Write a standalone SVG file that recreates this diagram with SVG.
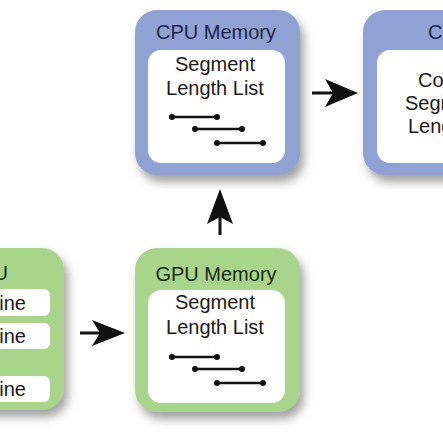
<svg xmlns="http://www.w3.org/2000/svg" width="443" height="443" viewBox="0 0 443 443">
<defs>
<filter id="sh" x="-20%" y="-20%" width="150%" height="150%">
<feDropShadow dx="4" dy="7" stdDeviation="5" flood-color="#555" flood-opacity="0.55"/>
</filter>
<g id="segs" stroke="#111" stroke-width="2.5" fill="#111">
<line x1="172" y1="0" x2="217" y2="0"/>
<line x1="195" y1="12" x2="242" y2="12"/>
<line x1="217" y1="26" x2="263" y2="26"/>
<g stroke="none">
<circle cx="172" cy="0" r="3"/><circle cx="217" cy="0" r="3"/>
<circle cx="195" cy="12" r="3"/><circle cx="242" cy="12" r="3"/>
<circle cx="217" cy="26" r="3"/><circle cx="263" cy="26" r="3"/>
</g>
</g>
</defs>
<style>
text{font-family:"Liberation Sans",Arial,sans-serif;font-size:20px;}
.blue{fill:#8fa2d3;}
.green{fill:#a9d48c;}
.inner{fill:#ffffff;}
.title{text-anchor:middle;}
.body{text-anchor:middle;fill:#1a1a1a;}
.arr line{stroke:#111;stroke-width:3;}
.arr path{fill:#111;}
</style>
<rect width="443" height="443" fill="#ffffff"/>
<g id="cpu-memory">
<rect class="blue" x="135" y="10" width="165" height="165" rx="22" filter="url(#sh)"/>
<rect class="inner" x="148" y="50" width="137" height="113" rx="13"/>
<text class="title" x="216" y="39" fill="#1c2744">CPU Memory</text>
<text class="body" x="215" y="71">Segment</text>
<text class="body" x="215" y="95">Length List</text>
<use href="#segs" y="117"/>
</g>
<g id="cpu-right">
<rect class="blue" x="363" y="10" width="165" height="165" rx="22" filter="url(#sh)"/>
<rect class="inner" x="377" y="50" width="137" height="113" rx="13"/>
<text x="428" y="39" fill="#1c2744">CPU</text>
<text x="418" y="87" fill="#1a1a1a">Compact</text>
<text x="405" y="110" fill="#1a1a1a">Segment</text>
<text x="408" y="133" fill="#1a1a1a">Lengths</text>
</g>
<g id="gpu">
<rect class="green" x="-100" y="248" width="164" height="162" rx="22" filter="url(#sh)"/>
<text x="8" y="280" text-anchor="end" fill="#1a2a10">GPU</text>
<rect class="inner" x="-80" y="289" width="130" height="27" rx="6"/>
<rect class="inner" x="-80" y="323" width="130" height="26" rx="6"/>
<rect class="inner" x="-80" y="376" width="130" height="26" rx="6"/>
<text x="26" y="310" text-anchor="end" fill="#1a1a1a">Engine</text>
<text x="26" y="343" text-anchor="end" fill="#1a1a1a">Engine</text>
<text x="26" y="396" text-anchor="end" fill="#1a1a1a">Engine</text>
</g>
<g id="gpu-memory">
<rect class="green" x="135" y="248" width="165" height="164" rx="22" filter="url(#sh)"/>
<rect class="inner" x="148" y="290" width="137" height="113" rx="13"/>
<text class="title" x="216" y="281" fill="#1a2a10">GPU Memory</text>
<text class="body" x="215" y="309">Segment</text>
<text class="body" x="215" y="334">Length List</text>
<use href="#segs" y="357"/>
</g>
<g id="connectors" class="arr">
<line x1="312" y1="93" x2="334" y2="93"/>
<path d="M358,93 L325,79 L333,93 L325,107 Z"/>
<line x1="80" y1="333" x2="101" y2="333"/>
<path d="M125,333 L92,320 L100,333 L92,346 Z"/>
<line x1="220" y1="235" x2="220" y2="215"/>
<path d="M220,189 L207,224 L220,217 L233,224 Z"/>
</g>
</svg>
